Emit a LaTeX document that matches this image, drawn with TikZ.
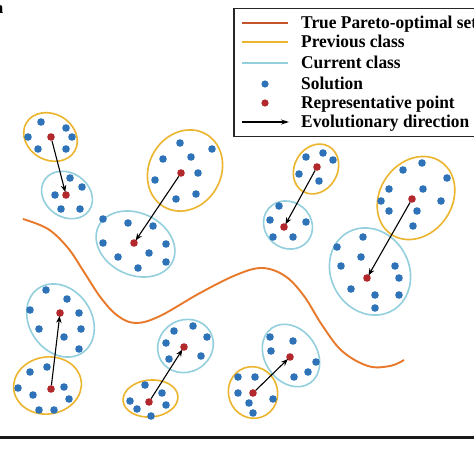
\documentclass[tikz,border=0pt]{standalone}
\usepackage{fontspec}
\setmainfont{Liberation Serif}
\newfontfamily\legfont[FakeStretch=0.965]{Liberation Serif}
\usetikzlibrary{arrows.meta}
\definecolor{pareto}{HTML}{E8782A}
\definecolor{paretoleg}{HTML}{C4542C}
\definecolor{prevc}{HTML}{EBB52E}
\definecolor{currc}{HTML}{93CFDC}
\definecolor{solc}{HTML}{2E72B8}
\definecolor{repc}{HTML}{B3282C}
\tikzset{
  prevell/.style={draw=prevc, line width=1.6pt},
  currell/.style={draw=currc, line width=1.6pt},
  sol/.style={fill=solc},
  rep/.style={circle, fill=repc, inner sep=0pt, minimum size=7.6pt},
  evo/.style={-{Stealth[length=7pt,width=5.5pt]}, line width=1.1pt, black, shorten >=-1pt},
  legtxt/.style={anchor=base west, font=\legfont\fontsize{18}{18}\selectfont\bfseries, inner sep=0pt},
}
\begin{document}
\begin{tikzpicture}[x=1pt,y=-1pt]
\useasboundingbox (0,0) rectangle (474,474);
\clip (0,0) rectangle (474,474);
\fill[white] (0,0) rectangle (474,474);
% panel label (cut off)
\node[anchor=base east, font=\fontsize{17}{17}\selectfont\bfseries, inner sep=0pt] (lbl) at (3.5,13) {a};
% Pareto curve
\draw[pareto, line width=1.9pt] plot[smooth, tension=0.6] coordinates {(23,219) (48,229) (68,248) (84,272) (101,298) (118,316) (136,323) (160,316) (200,293) (236,275) (262,268) (285,276) (304,296) (322,325) (342,351) (368,366) (390,366) (404,360)};
% ellipses
\draw[prevell, rotate around={-30:(50.5,137)}] (50.5,137) ellipse [x radius=28, y radius=23];
\draw[currell, rotate around={-35:(67,195)}] (67,195) ellipse [x radius=27, y radius=22];
\draw[prevell, rotate around={60:(185,170.5)}] (185,170.5) ellipse [x radius=42, y radius=36];
\draw[currell, rotate around={-25:(135.5,244)}] (135.5,244) ellipse [x radius=41, y radius=31];
\draw[prevell, rotate around={60:(316,169)}] (316,169) ellipse [x radius=26, y radius=21.5];
\draw[currell, rotate around={-40:(288,225)}] (288,225) ellipse [x radius=25.5, y radius=23];
\draw[prevell, rotate around={55:(416,198)}] (416,198) ellipse [x radius=44, y radius=36];
\draw[currell, rotate around={-60:(370,271.5)}] (370,271.5) ellipse [x radius=45, y radius=39];
\draw[currell, rotate around={-55:(60.5,320.5)}] (60.5,320.5) ellipse [x radius=39, y radius=31];
\draw[prevell, rotate around={8:(47.5,385.5)}] (47.5,385.5) ellipse [x radius=34, y radius=28.5];
\draw[currell, rotate around={30:(185.5,346)}] (185.5,346) ellipse [x radius=28.5, y radius=26];
\draw[prevell, rotate around={5:(150.5,398.5)}] (150.5,398.5) ellipse [x radius=27.5, y radius=18.5];
\draw[currell, rotate around={-55:(291,355.5)}] (291,355.5) ellipse [x radius=33.5, y radius=26];
\draw[prevell, rotate around={-70:(253,392.5)}] (253,392.5) ellipse [x radius=26, y radius=24.5];
% solutions
\foreach \p in {(41,122),(66,128),(28,137),(72,137),(38,149),(66,149),
  (70,178),(82,187),(55,195),(61,209),(80,209),
  (180,143),(212,149),(163,159),(191,157),(155,180),(198,173),(176,199),(196,194),
  (103,219),(128,223),(153,226),(103,243),(166,244),(149,253),(118,257),(138,268),(166,262),
  (306,157),(323,153),(333,160),(299,174),(319,181),
  (279,206),(270,220),(306,222),(273,237),(293,237),
  (403,170),(422,163),(447,178),(389,189),(423,189),(381,201),(441,201),(389,211),(417,211),(413,226),
  (363,237),(337,247),(361,257),(341,266),(395,266),(399,278),(351,289),(375,295),(399,295),(375,308),
  (46,290),(67,299),(30,310),(79,313),(39,329),(81,329),(64,337),(79,349),
  (30,372),(47,367),(18,388),(33,395),(64,387),(69,399),(39,410),(54,410),
  (174,331),(193,326),(207,337),(166,343),(169,359),(201,356),
  (145,385),(162,393),(130,401),(166,405),(137,409),(151,416),
  (270,337),(293,341),(271,351),(316,362),(308,372),(294,377),
  (238,377),(255,377),(238,393),(273,399),(249,403),(253,413)}
  \fill[sol] \p circle (3.8);
% representative points
\node[rep] (rA) at (51,137) {};
\node[rep] (rB) at (66,195) {};
\node[rep] (rC) at (181,173) {};
\node[rep] (rD) at (134,243) {};
\node[rep] (rE) at (317,167) {};
\node[rep] (rF) at (284,227) {};
\node[rep] (rG) at (412,199) {};
\node[rep] (rH) at (367,278) {};
\node[rep] (rI) at (60,313) {};
\node[rep] (rJ) at (51,389) {};
\node[rep] (rK) at (184,347) {};
\node[rep] (rL) at (149,402) {};
\node[rep] (rM) at (290,357) {};
\node[rep] (rN) at (253,393) {};
% evolutionary directions
\draw[evo] (rA) -- (rB);
\draw[evo] (rC) -- (rD);
\draw[evo] (rE) -- (rF);
\draw[evo] (rG) -- (rH);
\draw[evo] (rJ) -- (rI);
\draw[evo] (rL) -- (rK);
\draw[evo] (rN) -- (rM);
% bottom axis line
\coordinate (axL) at (0,437.5);
\coordinate (axR) at (474,437.5);
\draw[line width=2.6pt, black!90] (axL) -- (axR);
% legend
\node[draw=black!85, line width=1.8pt, minimum width=260pt, minimum height=128pt, anchor=north west, inner sep=0pt] (leg) at (233,7.5) {};
\coordinate (l1a) at (242,23); \coordinate (l1b) at (288,23);
\coordinate (l2a) at (242,42); \coordinate (l2b) at (288,42);
\coordinate (l3a) at (242,63); \coordinate (l3b) at (288,63);
\draw[paretoleg, line width=1.8pt] (l1a) -- (l1b);
\draw[prevc, line width=1.8pt] (l2a) -- (l2b);
\draw[currc, line width=1.8pt] (l3a) -- (l3b);
\fill[solc] (265,84) circle (3.6);
\fill[repc] (265,103) circle (3.6);
\coordinate (l6a) at (242,122); \coordinate (l6b) at (289,122);
\draw[-{Stealth[length=8pt,width=5pt]}, line width=1.1pt] (l6a) -- (l6b);
\node[legtxt] (t1) at (301,28) {True Pareto-optimal set};
\node[legtxt] (t2) at (301,47.5) {Previous class};
\node[legtxt] (t3) at (301,68) {Current class};
\node[legtxt] (t4) at (301,89) {Solution};
\node[legtxt] (t5) at (301,108) {Representative point};
\node[legtxt] (t6) at (301,127.5) {Evolutionary direction};
\end{tikzpicture}
\end{document}
